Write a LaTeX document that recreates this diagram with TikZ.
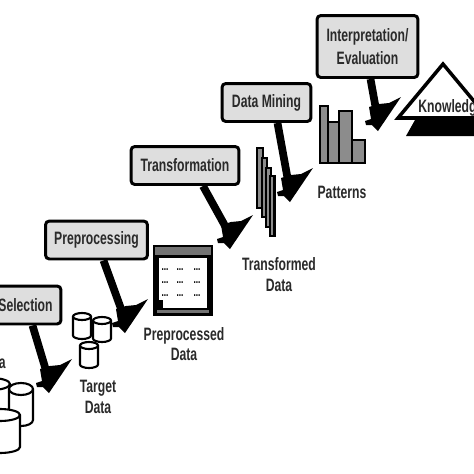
\documentclass[tikz,border=0pt]{standalone}
\usepackage{fontspec}
\setmainfont[FakeStretch=0.68]{Liberation Sans}
\usetikzlibrary{positioning}
\usetikzlibrary{calc}
\definecolor{boxfill}{HTML}{DEDEDE}
\definecolor{inktext}{HTML}{2A2A2A}
\definecolor{barfill}{HTML}{8C8C8C}
\tikzset{
  % A process step: rounded grey box
  stepbox/.style={
    draw=black, fill=boxfill, rounded corners=2.2pt, line width=1.7pt, align=center,
    font=\fontsize{10.2}{12.8}\selectfont\bfseries, text=inktext, inner sep=0pt,
    minimum width=#1},
  % Data labels under the pictures
  datalbl/.style={font=\fontsize{10.2}{11.8}\selectfont\bfseries, text=inktext, align=center, inner sep=0pt},
  % Data pictures
  drum/.style={draw=black, fill=white, line width=1.2pt},
  sheet/.style={draw=black, fill=barfill, line width=1.4pt},
  bar/.style={draw=black, fill=barfill, line width=1.3pt},
  griddots/.style={font=\fontsize{7}{7}\selectfont\bfseries, inner sep=0pt},
  % Relationships
  flow/.style={draw=black, line width=4.4pt},
  pics/flowhead/.style={code={
    \fill[black] (0,0) -- (-12,6) -- (-22,7) -- (-32,10) -- (-30,22) -- (-36,24)
      -- (-35,28) -- (-29,28) -- (-23,34) -- cycle;}},
}
% centre x, top, bottom, half width, cap height
\newcommand{\datadrum}[5]{%
  \path[drum] (#1-#4,#2+#5) -- (#1-#4,#3-#5)
    arc[start angle=180, end angle=0, x radius=#4, y radius=#5]
    -- (#1+#4,#2+#5)
    arc[start angle=0, end angle=-180, x radius=#4, y radius=#5] -- cycle;
  \draw[drum, fill=none] (#1-#4,#2+#5)
    arc[start angle=180, end angle=0, x radius=#4, y radius=#5];}
\newcommand{\flowarrow}[2]{%
  \draw[flow] (#1) -- ($(#2)+(-24,18)$);
  \pic at (#2) {flowhead};}

\begin{document}
\begin{tikzpicture}[x=0.02cm,y=-0.02cm]

  \useasboundingbox (0,0) rectangle (474,474);
  \clip (0,0) rectangle (474,474);
  \fill[white] (0,0) rectangle (474,474);

  % process steps
  \node[stepbox=14.2mm, minimum height=7.6mm] (selection) at (25.5,305) {Selection};
  \node[stepbox=20.4mm, minimum height=7.6mm] (preprocessing) at (96.5,240) {Preprocessing};
  \node[stepbox=21.6mm, minimum height=7.6mm] (transformation) at (185,165.5) {Transformation};
  \node[stepbox=17.8mm, minimum height=7.6mm] (mining) at (266.5,102.5) {Data Mining};
  \node[stepbox=20.2mm, minimum height=12.4mm] (interpretation) at (367.5,46.5) {Interpretation/\\Evaluation};

  \coordinate (tipa) at (72,359);
  \coordinate (tipb) at (148,299);
  \coordinate (tipc) at (253,215);
  \coordinate (tipd) at (313,168);
  \coordinate (tipe) at (401,97);

  % raw data
  \node[datalbl, anchor=east] (rawlbl) at (6,362) {Data};
  \datadrum{-9}{378}{424}{19}{6}
  \datadrum{21}{383}{426}{12}{6}
  \datadrum{0}{409}{453}{20}{6}

  % target data
  \datadrum{82}{313}{339}{9}{3.5}
  \datadrum{102}{317}{342}{9}{3.5}
  \datadrum{89}{342}{368}{9}{3.5}
  \node[datalbl] (targetlbl) at (98,397) {Target\\Data};

  % preprocessed data
  \node[fill=black, minimum width=12mm, minimum height=14.2mm, inner sep=0pt] (window) at (183,280.5) {};
  \fill[black!55] (155,247) rectangle (211,255);
  \fill[black!55] (157,310) rectangle (209,313);
  \fill[white] (159,258) rectangle (207,308);
  \foreach \rowy in {270,283,296}
    \foreach \coly in {165,180,197}
      \node[griddots] at (\coly,\rowy) {...};
  \fill[black] (157,300) rectangle (163,309);
  \node[datalbl] (preplbl) at (184,344) {Preprocessed\\Data};

  % transformed data
  \draw[sheet] (257,148) rectangle (263,208);
  \draw[sheet] (262,158) rectangle (267,217);
  \draw[sheet] (266,168) rectangle (271,227);
  \draw[sheet] (270,176) rectangle (274.5,236);
  \node[datalbl] (translbl) at (279,274.5) {Transformed\\Data};

  % patterns
  \draw[bar] (320,106) rectangle (328,163);
  \draw[bar] (328,122) rectangle (339,163);
  \draw[bar] (339,111) rectangle (352,163);
  \draw[bar] (352,140) rectangle (365,163);
  \node[datalbl] (patlbl) at (342,192) {Patterns};

  % knowledge
  \fill[black] (415,120) -- (406,136) -- (480,136) -- (480,119) -- cycle;
  \draw[fill=white, line width=2pt, line join=miter] (443,64) -- (398,118) -- (488,118) -- cycle;
  \node[datalbl, anchor=west] (knowledge) at (418,108) {Knowledge};

  % arrows
  \flowarrow{$(selection.south)+(7,0)$}{tipa}
  \flowarrow{$(preprocessing.south)+(7,0)$}{tipb}
  \flowarrow{$(transformation.south)+(18,0)$}{tipc}
  \flowarrow{$(mining.south)+(11,0)$}{tipd}
  \flowarrow{$(interpretation.south)+(3,0)$}{tipe}

\end{tikzpicture}
\end{document}
